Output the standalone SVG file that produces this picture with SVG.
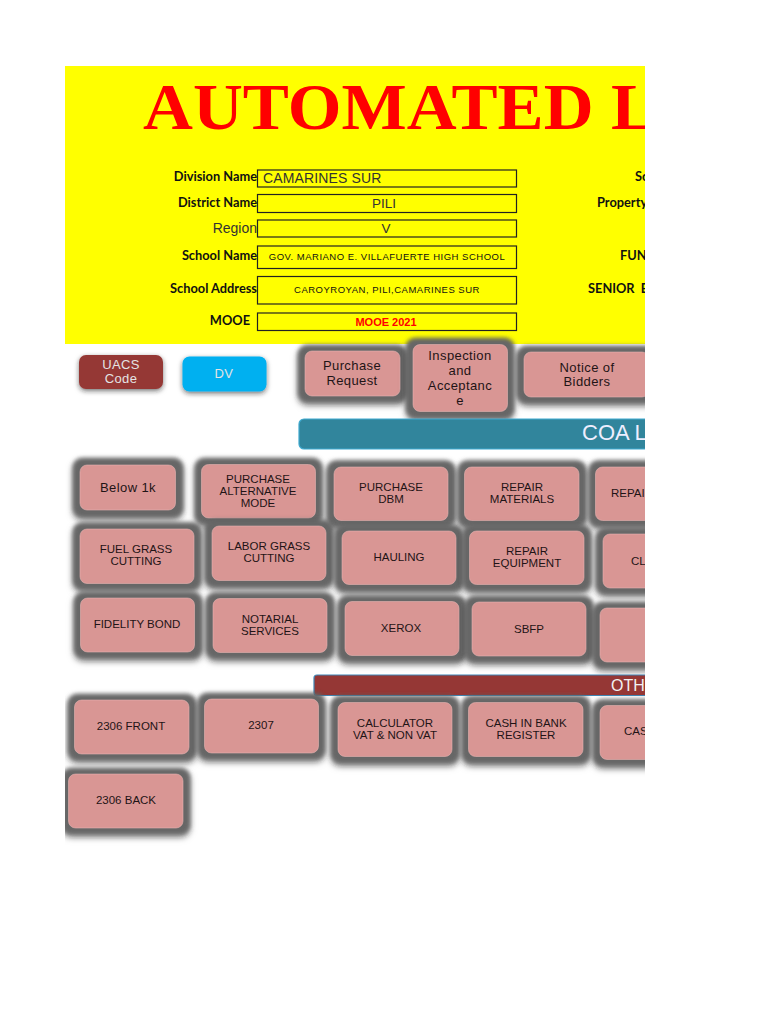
<svg xmlns="http://www.w3.org/2000/svg" width="768" height="1024" viewBox="0 0 768 1024">
<style>
text{font-family:"Liberation Sans",Arial,sans-serif;fill:#1f1416}
.title{font-family:"Liberation Serif","Times New Roman",serif;font-weight:700;font-size:66px;fill:#ff0000}
.lab{font-family:Lato,"Noto Sans",sans-serif;font-weight:700;font-size:12.8px;fill:#111;text-anchor:end}
.labs{font-family:Lato,"Noto Sans",sans-serif;font-weight:700;font-size:12.8px;fill:#111}
.field{fill:#ffff00;stroke:#222;stroke-width:1.2}
.fv{text-anchor:middle;fill:#333}
.h{fill:#666;filter:url(#halo)}
.hs{filter:url(#flat)}
.b{fill:#d99694;stroke:#e6b4b2;stroke-width:.6}
.m{text-anchor:middle;font-size:13px;letter-spacing:.4px}
.c{text-anchor:middle;font-size:11.5px}
.s{font-size:11.5px}
.w{fill:#e4e4e4}
</style>
<defs>
<clipPath id="page"><rect x="65" y="0" width="580" height="1024"/></clipPath>
<filter id="halo" x="-20%" y="-30%" width="140%" height="160%"><feGaussianBlur in="SourceGraphic" stdDeviation="2" result="a"/><feDropShadow in="a" dx="0" dy="3" stdDeviation="2.5" flood-color="#222" flood-opacity=".6"/></filter>
<filter id="flat" x="-20%" y="-30%" width="140%" height="160%"><feDropShadow dx="0" dy="2" stdDeviation="2.5" flood-color="#222" flood-opacity=".6"/></filter>
</defs>
<g clip-path="url(#page)">
<g id="header">
<rect x="65" y="66" width="580" height="278" fill="#ffff00"/>
<text class="title" x="143" y="128.5" textLength="514" lengthAdjust="spacingAndGlyphs">AUTOMATED L</text>
<text class="lab" x="257" y="181">Division Name</text>
<text class="lab" x="257" y="207">District Name</text>
<text x="257" y="233" text-anchor="end" font-size="14" style="fill:#333">Region</text>
<text class="lab" x="257" y="260">School Name</text>
<text class="lab" x="257" y="293">School Address</text>
<text class="lab" x="250" y="325">MOOE</text>
<rect class="field" x="257.5" y="170" width="259" height="17"/>
<rect class="field" x="257.5" y="194.5" width="259" height="18"/>
<rect class="field" x="257.5" y="220" width="259" height="17"/>
<rect class="field" x="257.5" y="246" width="259" height="22.500"/>
<rect class="field" x="257.5" y="276.500" width="259" height="27.500"/>
<rect class="field" x="257.5" y="313" width="259" height="17.500"/>
<text x="263" y="183" font-size="14" style="fill:#333" letter-spacing=".15">CAMARINES SUR</text>
<text class="fv" x="384" y="207.500" font-size="13.500">PILI</text>
<text class="fv" x="386" y="233" font-size="13.500">V</text>
<text class="fv" x="387" y="260" font-size="9.500" letter-spacing=".5" style="fill:#111">GOV. MARIANO E. VILLAFUERTE HIGH SCHOOL</text>
<text class="fv" x="387" y="293" font-size="9.500" letter-spacing=".5" style="fill:#111">CAROYROYAN, PILI,CAMARINES SUR</text>
<text class="fv" x="386" y="325.500" font-size="11" font-weight="700" style="fill:#ff0000">MOOE 2021</text>
<text class="labs" x="635" y="181">Sc</text>
<text class="labs" x="597" y="207">Property</text>
<text class="labs" x="620" y="260">FUN</text>
<text class="labs" x="588" y="293" xml:space="preserve">SENIOR  B</text>
</g>
<g id="connectors"></g>
<g id="uacs"><rect class="hs" x="79" y="355" width="84" height="34" rx="7" style="fill:#953735"/><text class="m w" x="121" y="369">UACS</text><text class="m w" x="121" y="383">Code</text></g>
<g id="dv"><rect class="hs" x="182.500" y="356.500" width="84" height="35" rx="7" style="fill:#00b0f0"/><text class="m w" x="224" y="378">DV</text></g>
<g id="purchase-request"><rect class="h" x="298" y="345" width="109" height="57" rx="9"/><rect class="b" x="305" y="351" width="95" height="45" rx="7"/><text class="m" x="352" y="370">Purchase</text><text class="m" x="352" y="385">Request</text></g>
<g id="notice-of-bidders"><rect class="h" x="517" y="346" width="139" height="57" rx="9"/><rect class="b" x="524" y="352" width="125" height="45" rx="7"/><text class="m" x="587" y="371.500">Notice of</text><text class="m" x="587" y="386">Bidders</text></g>
<g id="inspection"><rect class="h" x="406" y="338" width="108" height="80" rx="9"/><rect class="b" x="413" y="344.500" width="94.500" height="67" rx="7"/><text class="m" x="460" y="360">Inspection</text><text class="m" x="460" y="375">and</text><text class="m" x="460" y="390">Acceptanc</text><text class="m" x="460" y="405">e</text></g>
<g id="coa-bar"><rect x="299" y="419" width="400" height="30" rx="5" fill="#31859c" stroke="#3fa9cf" stroke-width="1.200"/><text x="582" y="440" font-size="22" style="fill:#eef">COA L</text></g>
<g id="below-1k"><rect class="h" x="73" y="458" width="110" height="59" rx="9"/><rect class="b" x="80" y="465" width="95.500" height="45" rx="7"/><text class="m" x="128" y="492">Below 1k</text></g>
<g id="purchase-alt"><rect class="h" x="195" y="458" width="127" height="66" rx="9"/><rect class="b" x="201.500" y="464.500" width="114" height="53.500" rx="7"/><text class="c" x="258" y="482.500">PURCHASE</text><text class="c" x="258" y="494.500">ALTERNATIVE</text><text class="c" x="258" y="506.500">MODE</text></g>
<g id="purchase-dbm"><rect class="h" x="327" y="460.500" width="128" height="66" rx="9"/><rect class="b" x="334" y="467" width="114" height="53.500" rx="7"/><text class="c" x="391" y="491">PURCHASE</text><text class="c" x="391" y="503">DBM</text></g>
<g id="repair-materials"><rect class="h" x="458" y="460.500" width="128" height="66" rx="9"/><rect class="b" x="464.500" y="467" width="114.500" height="53.500" rx="7"/><text class="c" x="522" y="491">REPAIR</text><text class="c" x="522" y="503">MATERIALS</text></g>
<g id="repair-other"><rect class="h" x="589" y="460.500" width="128" height="66" rx="9"/><rect class="b" x="595.500" y="467" width="114.500" height="53.500" rx="7"/><text class="s" x="611" y="497">REPAI</text></g>
<g id="fuel-grass"><rect class="h" x="73" y="522.500" width="128" height="67" rx="9"/><rect class="b" x="80" y="529" width="114" height="54.500" rx="7"/><text class="c" x="136" y="553">FUEL GRASS</text><text class="c" x="136" y="565">CUTTING</text></g>
<g id="labor-grass"><rect class="h" x="205" y="520" width="128" height="67" rx="9"/><rect class="b" x="212" y="526" width="114" height="54.500" rx="7"/><text class="c" x="269" y="550">LABOR GRASS</text><text class="c" x="269" y="562">CUTTING</text></g>
<g id="hauling"><rect class="h" x="335" y="525" width="128" height="66" rx="9"/><rect class="b" x="342" y="531" width="114" height="53.500" rx="7"/><text class="c" x="399" y="561">HAULING</text></g>
<g id="repair-equipment"><rect class="h" x="463" y="525" width="128" height="66" rx="9"/><rect class="b" x="469.500" y="531" width="114.500" height="53.500" rx="7"/><text class="c" x="527" y="555">REPAIR</text><text class="c" x="527" y="567">EQUIPMENT</text></g>
<g id="cl-node"><rect class="h" x="596" y="528" width="128" height="66" rx="9"/><rect class="b" x="603" y="534" width="114" height="54" rx="7"/><text class="s" x="631" y="565">CL</text></g>
<g id="fidelity-bond"><rect class="h" x="74" y="592" width="128" height="66" rx="9"/><rect class="b" x="80.500" y="598" width="114" height="54" rx="7"/><text class="c" x="137" y="628">FIDELITY BOND</text></g>
<g id="notarial"><rect class="h" x="206" y="592.500" width="128" height="66" rx="9"/><rect class="b" x="213" y="598.500" width="114" height="54" rx="7"/><text class="c" x="270" y="622.500">NOTARIAL</text><text class="c" x="270" y="635">SERVICES</text></g>
<g id="xerox"><rect class="h" x="338" y="595.500" width="128" height="66" rx="9"/><rect class="b" x="345" y="601.500" width="114" height="54" rx="7"/><text class="c" x="401" y="632">XEROX</text></g>
<g id="sbfp"><rect class="h" x="465" y="596" width="128" height="66" rx="9"/><rect class="b" x="472" y="602" width="114" height="54" rx="7"/><text class="c" x="529" y="633">SBFP</text></g>
<g id="blank-node"><rect class="h" x="593" y="602" width="128" height="66" rx="9"/><rect class="b" x="600" y="608" width="114" height="54" rx="7"/></g>
<g id="others-bar"><rect x="314" y="675" width="400" height="20.500" rx="3" fill="#953735" stroke="#3f86b5" stroke-width="1.200"/><text x="611" y="690.500" font-size="16" style="fill:#f2f2f2">OTH</text></g>
<g id="f2306-front"><rect class="h" x="68" y="694" width="128" height="66" rx="9"/><rect class="b" x="74.500" y="700" width="114.500" height="54" rx="7"/><text class="c" x="131" y="730">2306 FRONT</text></g>
<g id="f2307"><rect class="h" x="198" y="693" width="127" height="66" rx="9"/><rect class="b" x="204.500" y="699" width="114" height="54" rx="7"/><text class="c" x="261" y="729">2307</text></g>
<g id="calculator"><rect class="h" x="331" y="696" width="128" height="67" rx="9"/><rect class="b" x="338" y="702.500" width="114" height="54" rx="7"/><text class="c" x="395" y="727">CALCULATOR</text><text class="c" x="395" y="739">VAT &amp; NON VAT</text></g>
<g id="cash-in-bank"><rect class="h" x="462" y="696" width="128" height="67" rx="9"/><rect class="b" x="468.500" y="702.500" width="114.500" height="54" rx="7"/><text class="c" x="526" y="727">CASH IN BANK</text><text class="c" x="526" y="739">REGISTER</text></g>
<g id="cas-node"><rect class="h" x="593" y="699.500" width="128" height="66" rx="9"/><rect class="b" x="600" y="705.500" width="114" height="54" rx="7"/><text class="s" x="624" y="735">CAS</text></g>
<g id="f2306-back"><rect class="h" x="62" y="768" width="128" height="66" rx="9"/><rect class="b" x="68.500" y="774" width="114.500" height="54" rx="7"/><text class="c" x="126" y="804">2306 BACK</text></g>
</g>
</svg>
